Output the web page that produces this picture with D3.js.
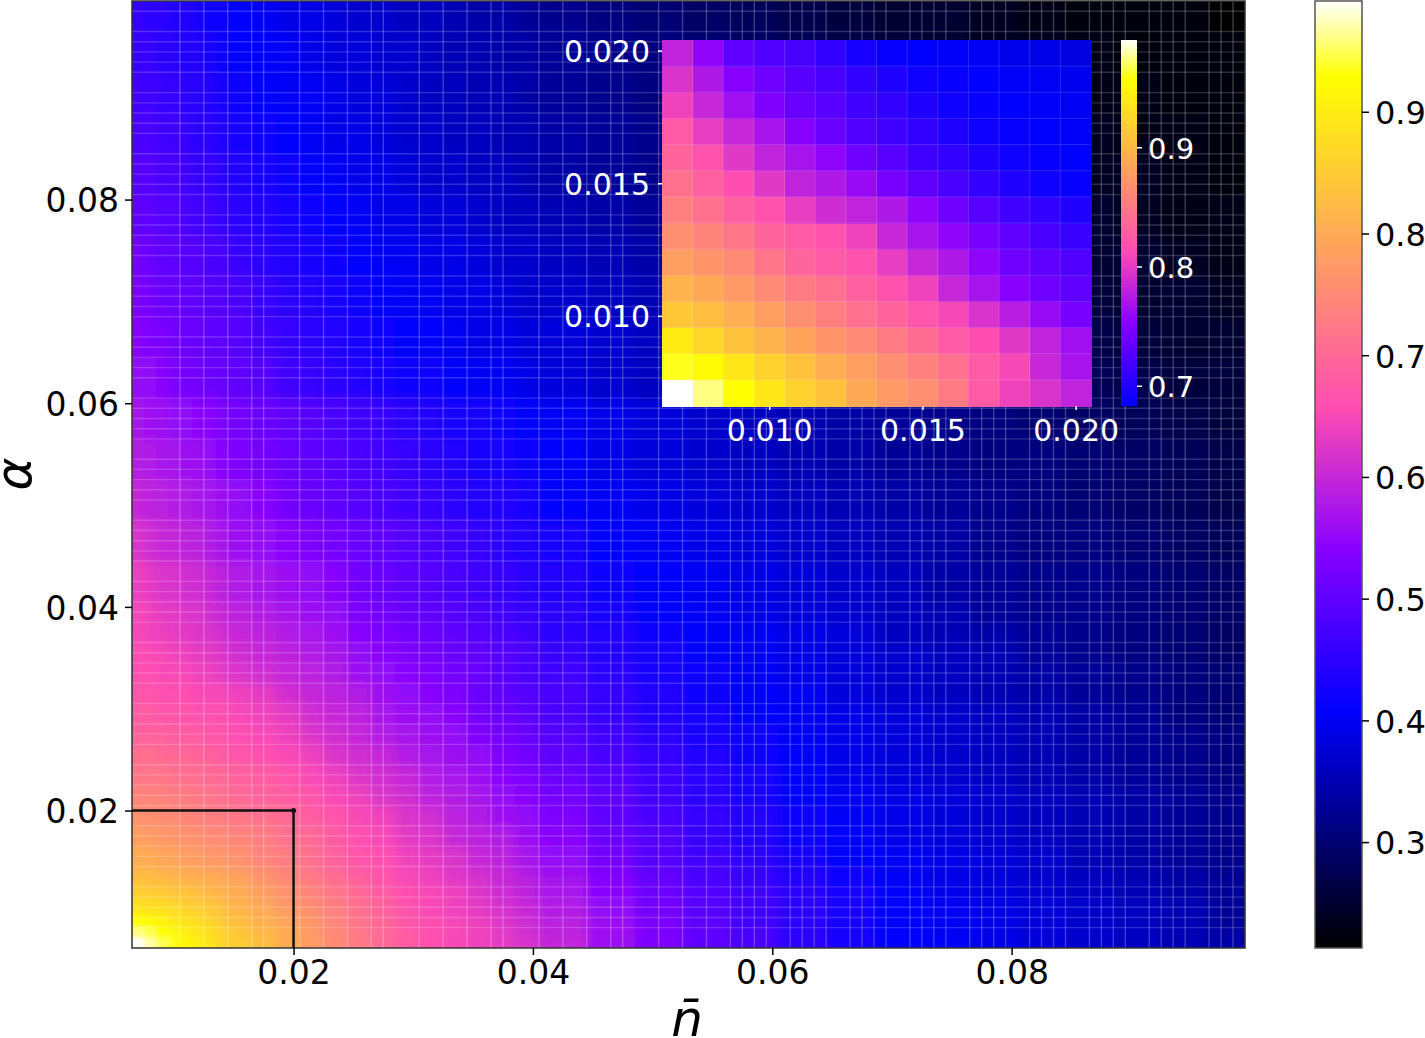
<!DOCTYPE html>
<html>
<head>
<meta charset="utf-8">
<script src="https://cdn.jsdelivr.net/npm/d3@7"></script>
<style>
body { margin: 0; background: #fff; }
text { font-family: "DejaVu Sans", sans-serif; }
</style>
</head>
<body>
<div class="chart"></div>
<script>
// cell edges of the big map (n-bar and alpha share them), in thousandths
const edges = [6.5,7.5,8.5,9.5,10.5,11.5,12.5,13.5,14.5,16.5,18.5,20.5,22.5,24.5,26.5,28.5,30.5,32.5,34.5,36.5,38.5,40.5,44.5,48.5,52.5,56.5,60.5,64.5,68.5,72.5,76.5,80.5,84.5,88.5,92.5,96.5,99.5];

// big map, first row is the lowest alpha
const mainValues = [
[.99,.97,.95,.93,.92,.90,.89,.87,.85,.83,.80,.78,.75,.73,.70,.68,.66,.65,.64,.63,.62,.60,.56,.53,.50,.48,.45,.43,.41,.40,.39,.38,.37,.36,.35,.34],
[.96,.95,.93,.92,.90,.89,.88,.86,.84,.82,.80,.77,.75,.72,.70,.68,.66,.65,.64,.63,.61,.59,.56,.53,.50,.48,.45,.43,.41,.40,.39,.38,.37,.36,.35,.34],
[.93,.92,.91,.90,.89,.88,.87,.85,.83,.81,.79,.77,.74,.72,.70,.67,.66,.65,.64,.62,.61,.59,.56,.53,.50,.47,.45,.43,.41,.40,.39,.38,.37,.36,.35,.33],
[.90,.89,.885,.88,.87,.86,.85,.84,.82,.80,.78,.76,.74,.71,.69,.67,.65,.64,.63,.62,.60,.58,.55,.52,.49,.47,.45,.43,.41,.40,.39,.38,.37,.36,.35,.33],
[.88,.87,.87,.86,.85,.85,.84,.83,.81,.79,.77,.75,.73,.71,.69,.66,.65,.64,.63,.61,.60,.58,.55,.52,.49,.47,.45,.43,.41,.40,.39,.38,.37,.36,.35,.33],
[.86,.85,.85,.84,.84,.83,.82,.81,.80,.78,.76,.74,.72,.70,.68,.66,.65,.64,.62,.61,.59,.57,.54,.51,.49,.47,.45,.43,.41,.39,.38,.37,.36,.35,.34,.33],
[.84,.83,.83,.82,.82,.81,.81,.80,.79,.77,.75,.73,.71,.69,.67,.65,.64,.63,.62,.60,.59,.57,.54,.51,.48,.46,.44,.42,.40,.39,.38,.37,.36,.35,.34,.33],
[.82,.82,.81,.81,.80,.80,.79,.79,.78,.76,.74,.72,.70,.68,.67,.65,.64,.62,.61,.60,.58,.56,.53,.50,.48,.46,.44,.42,.40,.39,.38,.37,.36,.35,.34,.325],
[.80,.80,.79,.79,.78,.78,.77,.77,.76,.74,.73,.71,.69,.67,.66,.64,.63,.62,.60,.59,.57,.55,.52,.49,.47,.45,.43,.41,.40,.39,.38,.37,.35,.34,.33,.32],
[.78,.78,.77,.77,.76,.76,.75,.75,.74,.73,.71,.70,.68,.66,.65,.63,.62,.60,.59,.58,.56,.54,.51,.49,.46,.44,.42,.41,.39,.38,.37,.36,.35,.34,.33,.32],
[.76,.76,.75,.75,.74,.74,.73,.73,.72,.71,.70,.68,.67,.65,.64,.62,.61,.59,.58,.56,.55,.53,.50,.48,.46,.44,.42,.40,.39,.38,.37,.36,.35,.34,.33,.32],
[.74,.74,.74,.73,.73,.72,.72,.71,.70,.69,.68,.67,.65,.64,.62,.61,.59,.58,.57,.55,.54,.52,.50,.47,.45,.43,.41,.40,.39,.38,.37,.36,.35,.34,.33,.32],
[.72,.72,.72,.71,.71,.71,.70,.70,.69,.68,.67,.65,.64,.62,.61,.60,.58,.57,.56,.54,.53,.51,.49,.47,.45,.43,.41,.39,.38,.37,.36,.35,.34,.33,.32,.31],
[.71,.71,.70,.70,.70,.69,.69,.68,.67,.66,.65,.64,.62,.61,.60,.58,.57,.56,.55,.53,.52,.50,.48,.46,.44,.42,.41,.39,.38,.37,.36,.35,.34,.33,.32,.31],
[.69,.69,.69,.68,.68,.68,.67,.67,.66,.65,.64,.62,.61,.60,.58,.57,.56,.55,.53,.52,.51,.49,.47,.45,.43,.42,.40,.39,.38,.37,.36,.35,.34,.33,.32,.31],
[.68,.68,.67,.67,.67,.66,.66,.66,.65,.64,.63,.61,.60,.59,.57,.56,.55,.54,.52,.51,.50,.48,.46,.44,.43,.41,.40,.39,.38,.37,.36,.35,.34,.33,.31,.30],
[.67,.67,.66,.66,.66,.65,.65,.65,.64,.63,.61,.60,.59,.58,.56,.55,.54,.53,.51,.50,.49,.48,.46,.44,.42,.41,.40,.38,.37,.36,.35,.34,.33,.32,.31,.30],
[.66,.66,.65,.65,.65,.64,.64,.63,.62,.61,.60,.59,.58,.56,.55,.54,.53,.52,.51,.49,.48,.47,.45,.43,.42,.40,.39,.38,.37,.36,.35,.34,.33,.32,.31,.30],
[.66,.65,.65,.64,.64,.63,.63,.62,.61,.60,.59,.58,.57,.55,.54,.53,.52,.51,.50,.49,.48,.46,.44,.43,.41,.40,.39,.38,.37,.36,.35,.33,.32,.31,.30,.29],
[.65,.64,.64,.63,.63,.62,.62,.61,.60,.59,.58,.57,.56,.54,.53,.52,.51,.50,.49,.48,.47,.45,.44,.42,.41,.40,.39,.38,.36,.35,.34,.33,.32,.31,.30,.29],
[.65,.64,.63,.63,.62,.62,.61,.60,.59,.58,.57,.56,.55,.53,.52,.51,.50,.49,.48,.47,.46,.45,.43,.41,.40,.39,.38,.37,.36,.35,.33,.32,.32,.31,.30,.29],
[.64,.63,.62,.62,.61,.61,.60,.59,.58,.57,.56,.55,.54,.52,.51,.50,.49,.48,.47,.46,.45,.44,.42,.41,.40,.39,.38,.37,.36,.34,.33,.32,.32,.31,.30,.29],
[.62,.61,.60,.60,.59,.59,.58,.57,.56,.55,.54,.53,.52,.51,.50,.49,.48,.47,.46,.45,.44,.43,.41,.40,.39,.38,.37,.36,.35,.34,.32,.31,.31,.30,.29,.28],
[.60,.59,.59,.58,.58,.57,.57,.56,.55,.54,.52,.51,.50,.49,.48,.47,.46,.45,.44,.44,.43,.41,.40,.39,.38,.37,.36,.35,.34,.33,.32,.31,.30,.29,.28,.27],
[.58,.58,.57,.57,.56,.56,.55,.54,.53,.52,.51,.50,.49,.48,.47,.46,.45,.44,.43,.43,.42,.41,.39,.38,.37,.36,.35,.34,.33,.32,.31,.31,.30,.29,.28,.27],
[.57,.56,.56,.55,.55,.54,.54,.53,.52,.51,.50,.49,.48,.47,.46,.45,.44,.43,.43,.42,.41,.40,.39,.38,.37,.36,.35,.34,.33,.32,.31,.30,.29,.28,.27,.26],
[.55,.55,.54,.53,.52,.52,.51,.51,.50,.49,.47,.46,.45,.44,.43,.42,.42,.41,.40,.40,.39,.38,.37,.36,.36,.35,.34,.33,.32,.31,.30,.29,.28,.27,.26,.26],
[.54,.53,.53,.52,.51,.51,.50,.50,.49,.47,.46,.45,.44,.43,.42,.41,.41,.40,.39,.39,.38,.38,.37,.36,.35,.34,.33,.32,.31,.30,.29,.28,.27,.26,.25,.25],
[.53,.52,.51,.51,.50,.50,.49,.49,.48,.46,.45,.44,.43,.42,.41,.40,.40,.39,.39,.38,.37,.37,.36,.35,.34,.33,.32,.31,.30,.29,.28,.27,.26,.25,.25,.24],
[.52,.51,.50,.50,.49,.49,.48,.48,.46,.45,.44,.43,.42,.41,.40,.40,.39,.39,.38,.37,.37,.36,.35,.34,.33,.32,.31,.30,.29,.28,.27,.26,.25,.25,.24,.23],
[.50,.50,.49,.49,.48,.47,.47,.46,.45,.44,.43,.42,.41,.40,.39,.39,.38,.38,.37,.36,.36,.35,.34,.33,.32,.31,.30,.29,.28,.27,.26,.25,.25,.24,.23,.23],
[.49,.49,.48,.48,.47,.46,.46,.45,.44,.43,.42,.41,.40,.39,.39,.38,.37,.37,.36,.36,.35,.34,.33,.32,.31,.30,.29,.28,.27,.26,.25,.25,.24,.24,.23,.22],
[.48,.48,.47,.47,.46,.45,.45,.44,.43,.42,.41,.40,.39,.39,.38,.37,.37,.36,.36,.35,.35,.34,.33,.32,.31,.30,.29,.28,.27,.26,.25,.25,.24,.23,.23,.22],
[.47,.47,.46,.46,.45,.45,.44,.43,.42,.41,.40,.40,.39,.38,.38,.37,.36,.36,.35,.35,.34,.33,.32,.31,.30,.29,.28,.27,.26,.25,.24,.24,.23,.23,.22,.22],
[.46,.46,.45,.45,.44,.44,.43,.42,.41,.41,.40,.39,.38,.38,.37,.37,.36,.35,.35,.34,.34,.33,.32,.31,.30,.29,.28,.27,.26,.25,.24,.24,.23,.22,.22,.22],
[.46,.45,.45,.44,.44,.43,.42,.42,.41,.40,.39,.39,.38,.37,.37,.36,.36,.35,.34,.34,.33,.32,.31,.30,.29,.28,.27,.26,.25,.25,.24,.23,.22,.22,.22,.21]
];

// inset cells, one per 0.001 from 0.007 to 0.020, first row is alpha 0.007
const insetValues = [
[.990,.974,.957,.937,.920,.908,.888,.875,.867,.851,.826,.806,.794,.781],
[.961,.953,.937,.920,.908,.892,.879,.867,.855,.843,.826,.810,.785,.769],
[.941,.924,.908,.896,.884,.871,.863,.851,.839,.826,.814,.798,.781,.765],
[.912,.904,.892,.879,.867,.855,.843,.834,.822,.810,.794,.777,.761,.744],
[.896,.888,.875,.863,.851,.843,.830,.818,.806,.785,.769,.753,.740,.732],
[.879,.871,.863,.847,.834,.826,.818,.802,.785,.773,.757,.740,.732,.724],
[.867,.859,.847,.834,.826,.818,.806,.785,.769,.757,.744,.732,.720,.712],
[.855,.843,.830,.818,.802,.789,.781,.773,.757,.740,.728,.716,.708,.699],
[.843,.830,.814,.798,.781,.773,.761,.744,.732,.720,.708,.699,.691,.687],
[.834,.818,.798,.781,.769,.757,.740,.728,.716,.708,.699,.691,.687,.683],
[.826,.802,.785,.769,.753,.736,.724,.716,.708,.699,.691,.687,.683,.681],
[.806,.785,.765,.748,.736,.728,.716,.708,.699,.691,.687,.683,.681,.679],
[.794,.773,.753,.740,.728,.720,.708,.699,.691,.687,.683,.681,.679,.677],
[.781,.757,.732,.724,.720,.708,.695,.687,.683,.681,.679,.675,.673,.671]
];

const mainTicks = [0.02, 0.04, 0.06, 0.08];
const insetTicks = [0.010, 0.015, 0.020];
const mainBarTicks = [0.3, 0.4, 0.5, 0.6, 0.7, 0.8, 0.9];
const insetBarTicks = [0.7, 0.8, 0.9];
const mainRange = [0.213, 0.991];
const insetRange = [0.683, 0.99];
const insetColorSpan = [0.25, 1]; // the inset bar starts at blue, not black
const boxCorner = 0.02;
const cornerCells = 3; // lower left cells of the big map kept sharper

// steps between the brighter cell seams
const seamGapsLeft = [2, 2, 2, 1, 3];
const seamGapsRight = [1, 1, 1, 2];
const seamGapsY = [1, 1, 1, 1, 2];

const width = 1425, height = 1038;
const main = {left: 132, right: 1245, top: 1, bottom: 948};
const inset = {left: 662, right: 1091, top: 40, bottom: 406};
const mainBar = {left: 1315, right: 1362};
const insetBar = {left: 1121, right: 1137};

// matplotlib gnuplot2
const clip = v => Math.max(0, Math.min(1, v));
const gnuplot2 = t => {
    const r = clip(t / 0.32 - 0.78125);
    const g = clip(2 * t - 0.84);
    const b = clip(t < 0.25 ? 4 * t : t < 0.92 ? -2 * t + 1.84 : t / 0.08 - 11.5);
    return d3.rgb(r * 255, g * 255, b * 255).formatRgb();
};

const svg = d3.select(".chart").append("svg")
    .attr("width", width)
    .attr("height", height)
    .style("display", "block");

const defs = svg.append("defs");
const addBlur = (id, sd) => defs.append("filter")
    .attr("id", id)
    .append("feGaussianBlur")
    .attr("stdDeviation", sd);
addBlur("soft", 6);
addBlur("soft-corner", 2.5);
addBlur("soft-seam", 0.5);
defs.append("clipPath")
    .attr("id", "plot-clip")
    .append("rect")
    .attr("x", main.left)
    .attr("y", main.top)
    .attr("width", main.right - main.left)
    .attr("height", main.bottom - main.top);

const xScale = d3.scaleLinear().domain([0.0065, 0.0995]).range([main.left, main.right]);
const yScale = d3.scaleLinear().domain([0.0065, 0.0995]).range([main.bottom, main.top]);
const colorScale = d3.scaleSequential(gnuplot2).domain(mainRange);

const mainCells = mainValues.flatMap((row, j) => row.map((v, i) => ({i, j, v})));

const drawCells = (parent, cells) => parent
    .attr("shape-rendering", "crispEdges")
    .selectAll("rect")
    .data(cells)
    .enter()
    .append("rect")
    .attr("x", d => xScale(edges[d.i] / 1000))
    .attr("y", d => yScale(edges[d.j + 1] / 1000))
    .attr("width", d => xScale(edges[d.i + 1] / 1000) - xScale(edges[d.i] / 1000) + 0.5)
    .attr("height", d => yScale(edges[d.j] / 1000) - yScale(edges[d.j + 1] / 1000) + 0.5)
    .attr("fill", d => colorScale(d.v));

// the reference is a soft scan: sharp cells under a blurred copy, corner on top
const mapLayer = svg.append("g").attr("clip-path", "url(#plot-clip)");
drawCells(mapLayer.append("g"), mainCells);
drawCells(mapLayer.append("g").attr("filter", "url(#soft)"), mainCells);
drawCells(mapLayer.append("g").attr("filter", "url(#soft-corner)"),
    mainCells.filter(d => d.i < cornerCells && d.j < cornerCells));

// seams between the fine cells
const seamsFrom = (gaps, start, end) => {
    const out = [];
    let k = start, g = 0;
    while (k < end) {
        out.push(k);
        k += gaps[g % gaps.length];
        g++;
    }
    return out;
};
const seamX = seamsFrom(seamGapsLeft, 4, 50).concat(seamsFrom(seamGapsRight, 50, 93));
const seamY = seamsFrom(seamGapsY, 2, 93);

const seams = mapLayer.append("g")
    .attr("stroke", "#fff")
    .attr("stroke-width", 1.4)
    .attr("filter", "url(#soft-seam)");
seams.selectAll(".seam-x")
    .data(seamX)
    .enter()
    .append("line")
    .attr("class", "seam-x")
    .attr("x1", d => xScale(0.0065 + d / 1000))
    .attr("x2", d => xScale(0.0065 + d / 1000))
    .attr("y1", main.top)
    .attr("y2", main.bottom)
    .attr("stroke-opacity", 0.24);
seams.selectAll(".seam-y")
    .data(seamY)
    .enter()
    .append("line")
    .attr("class", "seam-y")
    .attr("y1", d => yScale(0.0065 + d / 1000))
    .attr("y2", d => yScale(0.0065 + d / 1000))
    .attr("x1", main.left)
    .attr("x2", main.right)
    .attr("stroke-opacity", 0.18);

// frame and axes
svg.append("rect")
    .attr("x", main.left)
    .attr("y", main.top)
    .attr("width", main.right - main.left)
    .attr("height", main.bottom - main.top)
    .attr("fill", "none")
    .attr("stroke", "#333")
    .attr("stroke-width", 1.5);

const styleAxis = (g, color, size) => {
    g.select(".domain").remove();
    g.selectAll("line").attr("stroke", color).attr("stroke-width", 1.5);
    g.selectAll("text").attr("fill", color).attr("font-size", size)
        .style("font-family", '"DejaVu Sans", sans-serif');
};
const centreLabels = g => g.selectAll("text").attr("dy", "0.37em");

svg.append("g")
    .attr("transform", `translate(0,${main.bottom})`)
    .call(d3.axisBottom(xScale).tickValues(mainTicks).tickFormat(d3.format(".2f")).tickSize(7).tickPadding(6))
    .call(styleAxis, "#000", 33);
svg.append("g")
    .attr("transform", `translate(${main.left},0)`)
    .call(d3.axisLeft(yScale).tickValues(mainTicks).tickFormat(d3.format(".2f")).tickSize(7).tickPadding(6))
    .call(styleAxis, "#000", 33)
    .call(centreLabels);

// box that marks the inset region
svg.append("path")
    .attr("d", d3.line()([
        [xScale.range()[0], yScale(boxCorner)],
        [xScale(boxCorner), yScale(boxCorner)],
        [xScale(boxCorner), yScale.range()[0]]
    ]))
    .attr("fill", "none")
    .attr("stroke", "#111")
    .attr("stroke-width", 2.5);
svg.append("circle")
    .attr("cx", xScale(boxCorner))
    .attr("cy", yScale(boxCorner))
    .attr("r", 2.5)
    .attr("fill", "#111");

svg.append("text")
    .attr("x", 687)
    .attr("y", 1036)
    .attr("text-anchor", "middle")
    .attr("font-size", 50)
    .attr("font-style", "italic")
    .text("n\u0304");
svg.append("text")
    .attr("transform", "translate(31,474) rotate(-90)")
    .attr("text-anchor", "middle")
    .attr("font-size", 50)
    .attr("font-style", "italic")
    .text("\u03b1");

// inset
const xInset = d3.scaleLinear().domain([0.0065, 0.0205]).range([inset.left, inset.right]);
const yInset = d3.scaleLinear().domain([0.0066, 0.0204]).range([inset.bottom, inset.top]);
const insetRows = d3.scaleLinear().domain([0, 14]).range([inset.bottom, inset.top]);
const insetT = d3.scaleLinear().domain(insetRange).range(insetColorSpan);
const colorInset = v => gnuplot2(insetT(v));

const insetCells = insetValues.flatMap((row, j) => row.map((v, i) => ({i, j, v})));
svg.append("g")
    .attr("shape-rendering", "crispEdges")
    .selectAll("rect")
    .data(insetCells)
    .enter()
    .append("rect")
    .attr("x", d => xInset(0.0065 + d.i / 1000))
    .attr("y", d => insetRows(d.j + 1))
    .attr("width", (inset.right - inset.left) / 14 + 0.5)
    .attr("height", (inset.bottom - inset.top) / 14 + 0.5)
    .attr("fill", d => colorInset(d.v));

const insetSeams = svg.append("g").attr("stroke", "#fff").attr("stroke-opacity", 0.15);
insetSeams.selectAll(".iv")
    .data(d3.range(1, 14))
    .enter()
    .append("line")
    .attr("x1", d => xInset(0.0065 + d / 1000))
    .attr("x2", d => xInset(0.0065 + d / 1000))
    .attr("y1", inset.top)
    .attr("y2", inset.bottom);
insetSeams.selectAll(".ih")
    .data(d3.range(1, 14))
    .enter()
    .append("line")
    .attr("y1", d => insetRows(d))
    .attr("y2", d => insetRows(d))
    .attr("x1", inset.left)
    .attr("x2", inset.right);

svg.append("g")
    .attr("transform", `translate(0,${inset.bottom})`)
    .call(d3.axisBottom(xInset).tickValues(insetTicks).tickFormat(d3.format(".3f")).tickSize(4).tickPadding(10))
    .call(styleAxis, "#fff", 30);
svg.append("g")
    .attr("transform", `translate(${inset.left},0)`)
    .call(d3.axisLeft(yInset).tickValues(insetTicks).tickFormat(d3.format(".3f")).tickSize(4).tickPadding(8))
    .call(styleAxis, "#fff", 30)
    .call(centreLabels);

// colour bars
const addBar = (id, box, y0, y1, domain, span, ticks, color, size, tickLen, frame) => {
    const grad = defs.append("linearGradient")
        .attr("id", id)
        .attr("x1", 0).attr("x2", 0).attr("y1", 1).attr("y2", 0);
    grad.selectAll("stop")
        .data(d3.range(0, 1.001, 0.01))
        .enter()
        .append("stop")
        .attr("offset", d => d)
        .attr("stop-color", d => gnuplot2(span[0] + d * (span[1] - span[0])));
    svg.append("rect")
        .attr("x", box.left)
        .attr("y", y0)
        .attr("width", box.right - box.left)
        .attr("height", y1 - y0)
        .attr("fill", `url(#${id})`)
        .attr("stroke", frame)
        .attr("stroke-width", frame === "none" ? 0 : 1.5);
    const scale = d3.scaleLinear().domain(domain).range([y1, y0]);
    svg.append("g")
        .attr("transform", `translate(${box.right},0)`)
        .call(d3.axisRight(scale).tickValues(ticks).tickFormat(d3.format(".1f")).tickSize(tickLen).tickPadding(6))
        .call(styleAxis, color, size)
        .call(centreLabels);
};
addBar("bar-main", mainBar, main.top, main.bottom, mainRange, [0, 1], mainBarTicks, "#000", 32, 7, "#555");
addBar("bar-inset", insetBar, inset.top, inset.bottom, insetRange, insetColorSpan, insetBarTicks, "#fff", 29, 5, "none");
</script>
</body>
</html>
